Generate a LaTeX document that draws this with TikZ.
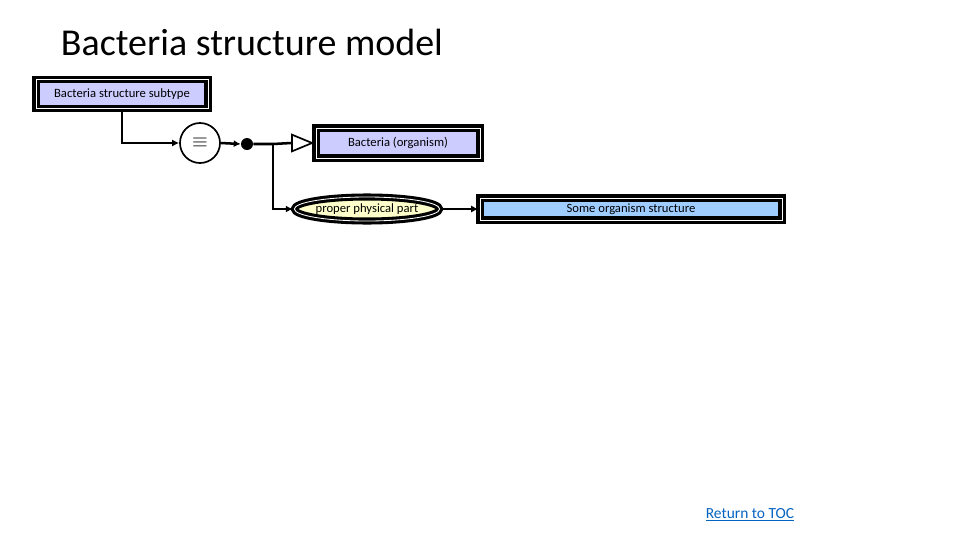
\documentclass[tikz,border=0pt]{standalone}
\usepackage{fontspec}
\setmainfont{Carlito}
\usetikzlibrary{arrows.meta,positioning,shapes.geometric}
\definecolor{boxlav}{RGB}{204,204,255}
\definecolor{boxblue}{RGB}{160,205,255}
\definecolor{ovalyel}{RGB}{255,255,204}
\definecolor{linkblue}{RGB}{5,99,193}
\tikzstyle{concept} = [rectangle, draw=black, line width=2.4pt, double=white, double distance=0.6pt, fill=boxlav, font=\fontsize{9}{10}\selectfont, inner sep=0pt]
\tikzstyle{rel} = [ellipse, draw=black, line width=2.2pt, double=white, double distance=0.6pt, fill=ovalyel, font=\fontsize{9}{10}\selectfont, inner sep=0pt, minimum width=3.5cm, minimum height=0.6cm]
\tikzstyle{arrow} = [line width=1.8pt, -{Latex[length=5pt,width=5pt]}]
\begin{document}
\begin{tikzpicture}[x=0.025cm, y=-0.025cm]
	\useasboundingbox (0,0) rectangle (960,540);
	% Title
	\node [anchor=west, font=\fontsize{27}{30}\selectfont] (Title) at (56,42) {Bacteria structure model};
	% Place nodes
	\node [concept, minimum width=4.3cm, minimum height=0.72cm] (Subtype) at (122,94) {Bacteria structure subtype};
	\node [circle, draw=black, line width=1.2pt, fill=white, minimum size=1cm, inner sep=0pt, font=\Large\bfseries] (Equiv) at (200,143) {$\equiv$};
	\node [circle, fill=black, minimum size=0.3cm, inner sep=0pt] (Conj) at (247,144) {};
	\coordinate (Fork) at (273,144);
	\node [concept, minimum width=4.1cm, minimum height=0.75cm] (Bacteria) at (398,143) {Bacteria (organism)};
	\node [isosceles triangle, draw=black, line width=1.2pt, fill=white, minimum width=0.4cm, minimum height=0.5cm, inner sep=0pt, anchor=apex] (Isa) at (Bacteria.west) {};
	\node [rel] (Part) at (367,209) {proper physical part};
	\node [concept, fill=boxblue, minimum width=7.55cm, minimum height=0.55cm] (Structure) at (631,209) {Some organism structure};
	\node [font=\fontsize{11}{12}\selectfont, text=linkblue] (Toc) at (750,515) {\underline{Return to TOC}};
	% Draw edges
	\draw [arrow] (Subtype.south) |- (Equiv.west);
	\draw [arrow] (Equiv.east) -- (Conj.west);
	\draw [line width=1.8pt] (Conj) -- (Fork) -- (Isa.west);
	\draw [arrow] (Fork) |- (Part.west);
	\draw [arrow] (Part.east) -- (Structure.west);
\end{tikzpicture}
\end{document}
